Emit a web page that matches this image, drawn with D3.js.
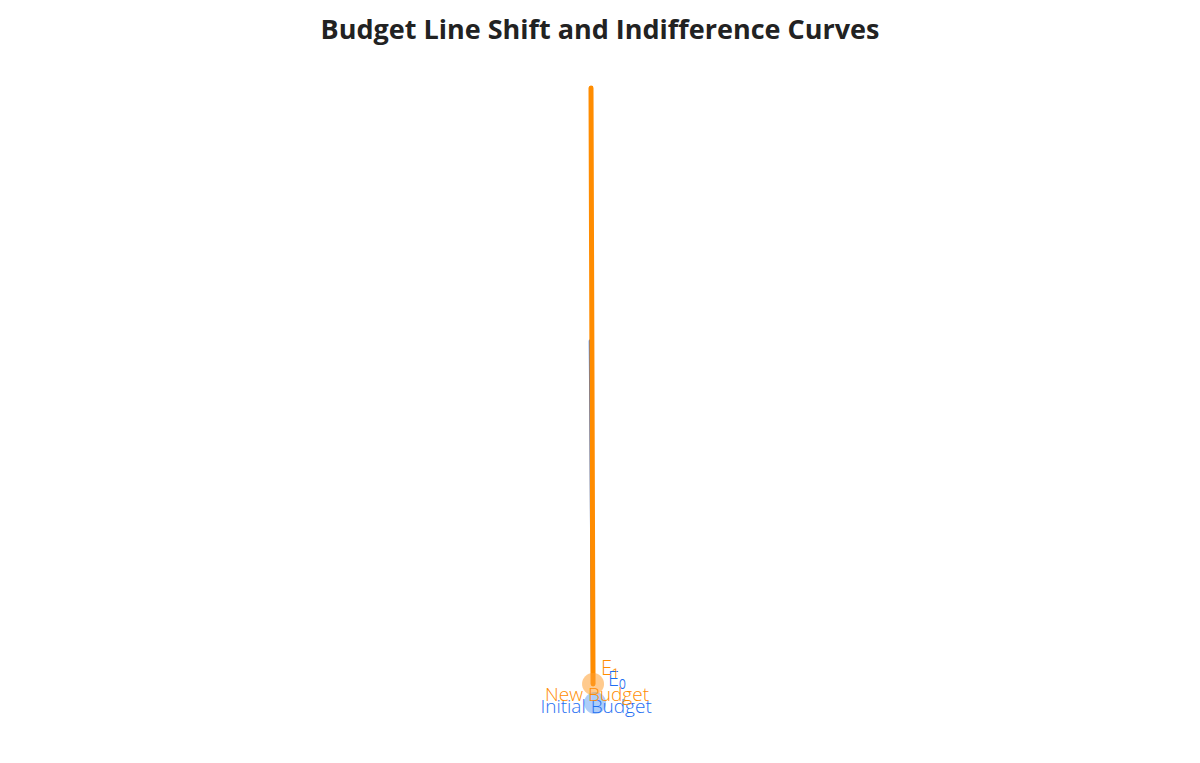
<!DOCTYPE html>
<html>
<head>
<meta charset="utf-8">
<script src="https://cdn.jsdelivr.net/npm/d3@7"></script>
<style>
  body { margin: 0; background: #fff; }
  text { font-family: "Open Sans", Lato, sans-serif; }
</style>
</head>
<body>
<script>
// budget lines (x = good X, y = good Y)
var initialBudgetX = [-0.15, 0.3];
var initialBudgetY = [600, 60];
var newBudgetX = [0, 0.4];
var newBudgetY = [1000, 57];

// equilibrium points
var eqNames = ['E₀', 'E₁'];
var eqX = [0.8, 0.4];
var eqY = [27, 57];

var budgetNames = ['Initial Budget', 'New Budget'];
var colors = ['#1f6ff2', '#ff8c00'];
var markerColors = ['#8ab8f7', '#ff9f30'];

var width = 1200, height = 763;

var x = d3.scaleLinear()
        .domain([-100, 100])
        .range([80, 1102]);

var y = d3.scaleLinear()
        .domain([0, 1000])
        .range([720, 88]);

var svg = d3.select("body").append("svg").attr("width", width).attr("height", height);

svg.append("text")
        .attr("x", 600)
        .attr("y", 39)
        .attr("text-anchor", "middle")
        .attr("font-size", "27")
        .attr("font-weight", "700")
        .attr("fill", "#222")
        .text("Budget Line Shift and Indifference Curves");

var line = d3.line().x(function(d){return x(d[0]);}).y(function(d){return y(d[1]);});

var budgets = [d3.zip(initialBudgetX, initialBudgetY), d3.zip(newBudgetX, newBudgetY)];

svg.selectAll("path.budget")
    .data(budgets)
    .enter().append("path")
            .attr("class", "budget")
            .attr("d", line)
            .attr("fill", "none")
            .attr("stroke", function(d,i){return colors[i];})
            .attr("stroke-width", function(d,i){return i === 0 ? 3 : 5;})
            .attr("stroke-linecap", "round");

svg.selectAll("circle.eq")
    .data(eqX)
    .enter().append("circle")
            .attr("class", "eq")
            .attr("cx", function(d){return x(d);})
            .attr("cy", function(d,i){return y(eqY[i]);})
            .attr("r", 11)
            .attr("fill", function(d,i){return markerColors[i];})
            .attr("fill-opacity", function(d,i){return i === 0 ? 0.7 : 0.55;});

// equilibrium labels
svg.selectAll("text.eq")
    .data(eqNames)
    .enter().append("text")
            .attr("class", "eq")
            .attr("x", function(d,i){return x(eqX[i]) + (i === 0 ? 13 : 8);})
            .attr("y", function(d,i){return y(eqY[i]) - (i === 0 ? 17 : 9);})
            .attr("font-size", "20")
            .attr("font-weight", "300")
            .attr("fill", function(d,i){return colors[i];})
            .text(function(d){return d;});

// budget labels
svg.selectAll("text.budget")
    .data(budgetNames)
    .enter().append("text")
            .attr("class", "budget")
            .attr("x", function(d,i){return x(eqX[i]) + (i === 0 ? 1 : 4);})
            .attr("y", function(d,i){return y(eqY[i]) + (i === 0 ? 10 : 17);})
            .attr("text-anchor", "middle")
            .attr("font-size", "19")
            .attr("font-weight", "300")
            .attr("fill", function(d,i){return colors[i];})
            .text(function(d){return d;});
</script>
</body>
</html>
